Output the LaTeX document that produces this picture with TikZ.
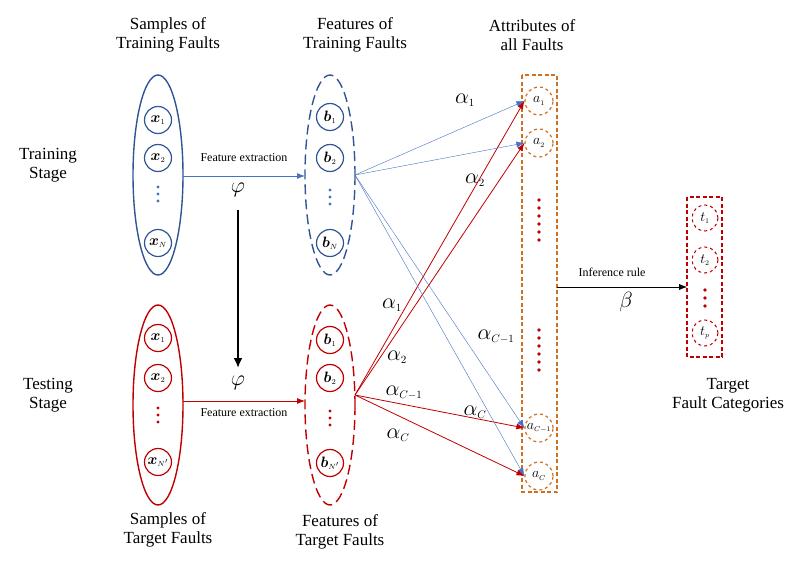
\RequirePackage{fix-cm}
\documentclass[tikz,border=0pt]{standalone}
\usepackage{amsmath,amssymb}
\usepackage{bm}
\usepackage{fontspec}
\setmainfont{Liberation Serif}
\usetikzlibrary{arrows.meta}
\definecolor{dblue}{HTML}{2F5597}
\definecolor{lblue}{HTML}{4472C4}
\definecolor{dred}{HTML}{C00000}
\definecolor{orng}{HTML}{D0701F}
\tikzset{
 cb/.style={circle,draw=dblue,line width=1.2pt,minimum size=27pt,inner sep=0pt,font=\fontsize{15}{15}\selectfont},
 cr/.style={circle,draw=dred,line width=1.2pt,minimum size=27pt,inner sep=0pt,font=\fontsize{15}{15}\selectfont},
 co/.style={circle,draw=orng,line width=1.2pt,dashed,minimum size=28pt,inner sep=0pt,font=\fontsize{14}{14}\selectfont},
 crd/.style={circle,draw=dred,line width=1pt,dashed,minimum size=26pt,inner sep=0pt,font=\fontsize{14}{14}\selectfont},
 lab/.style={align=center,font=\fontsize{17}{19}\selectfont},
 al/.style={font=\fontsize{22}{22}\selectfont},
 sm/.style={font=\fontsize{12}{12}\selectfont},
 ba/.style={lblue,-{Latex[length=8pt,width=6pt]}},
 ra/.style={dred,thick,-{Latex[length=8pt,width=6pt]}},
}
\begin{document}
\begin{tikzpicture}[x=1pt,y=-1pt]
\useasboundingbox (0,0) rectangle (785,568);
% headings
\node[lab] (h1) at (168,35) {Samples of\\Training Faults};
\node[lab] (h2) at (355,35) {Features of\\Training Faults};
\node[lab] (h3) at (532,35) {Attributes of\\all Faults};
\node[lab] (h4) at (48,165) {Training\\Stage};
\node[lab] (h5) at (48,395) {Testing\\Stage};
\node[lab] (h6) at (168,530) {Samples of\\Target Faults};
\node[lab] (h7) at (340,532) {Features of\\Target Faults};
\node[lab] (h8) at (728,395) {Target\\Fault Categories};
% ellipses
\draw[dblue,line width=1.4pt] (158,175) ellipse (25 and 100);
\draw[dblue,line width=1.4pt,dash pattern=on 10pt off 5pt] (330,175) ellipse (25 and 100);
\draw[dred,line width=1.4pt] (158,405) ellipse (25 and 100);
\draw[dred,line width=1.4pt,dash pattern=on 10pt off 5pt] (330,405) ellipse (25 and 100);
\coordinate (e1r) at (183,176); \coordinate (e2l) at (305,176); \coordinate (e2r) at (355,175);
\coordinate (e3r) at (183,401); \coordinate (e4l) at (305,401); \coordinate (e4r) at (355,395);
% circles
\node[cb] (x1) at (158,120) {$\bm{x}_{\scriptscriptstyle 1}$};
\node[cb] (x2) at (158,158) {$\bm{x}_{\scriptscriptstyle 2}$};
\node[cb] (xN) at (158,243) {$\bm{x}_{\scriptscriptstyle N}$};
\node[cb] (b1) at (330,117) {$\bm{b}_{\scriptscriptstyle 1}$};
\node[cb] (b2) at (330,158) {$\bm{b}_{\scriptscriptstyle 2}$};
\node[cb] (bN) at (330,243) {$\bm{b}_{\scriptscriptstyle N}$};
\node[cr] (y1) at (158,338) {$\bm{x}_{\scriptscriptstyle 1}$};
\node[cr] (y2) at (158,378) {$\bm{x}_{\scriptscriptstyle 2}$};
\node[cr] (yN) at (158,462) {$\bm{x}_{\scriptscriptstyle N'}$};
\node[cr] (c1) at (330,340) {$\bm{b}_{\scriptscriptstyle 1}$};
\node[cr] (c2) at (330,378) {$\bm{b}_{\scriptscriptstyle 2}$};
\node[cr] (cN) at (330,463) {$\bm{b}_{\scriptscriptstyle N'}$};
\foreach \y in {187,194,201} {\fill[lblue] (158,\y) circle (1.7); \fill[lblue] (330,\y+3) circle (1.7);}
\foreach \y in {408,415,422} {\fill[dred] (158,\y) circle (1.7); \fill[dred] (330,\y+3) circle (1.7);}
% attributes
\draw[orng,line width=1.3pt,dash pattern=on 4pt off 2.5pt] (522,75) rectangle (557,492);
\node[co] (a1) at (539,101) {$a_{\scriptscriptstyle 1}$};
\node[co] (a2) at (539,143) {$a_{\scriptscriptstyle 2}$};
\node[co] (aC1) at (539,428) {$a_{\scriptscriptstyle C-1}$};
\node[co] (aC) at (539,476) {$a_{\scriptscriptstyle C}$};
\foreach \y in {200,208,...,240} \fill[dred] (539,\y) circle (1.8);
\foreach \y in {330,338,...,370} \fill[dred] (539,\y) circle (1.8);
% targets
\draw[dred,line width=1.2pt,dash pattern=on 4pt off 2.5pt] (687,197) rectangle (722,357);
\node[crd] (t1) at (705,218) {$t_{\scriptscriptstyle 1}$};
\node[crd] (t2) at (705,260) {$t_{\scriptscriptstyle 2}$};
\foreach \y in {290,298,306} \fill[dred] (705,\y) circle (1.8);
\node[crd] (tp) at (705,333) {$t_{\scriptscriptstyle p}$};
% extraction arrows
\draw[ba,thick] (e1r) -- (e2l);
\node[sm] (fe1) at (244,158) {Feature extraction};
\node[al] (p1) at (238,190) {$\varphi$};
\draw[dred,thick,-{Latex[length=8pt,width=6pt]}] (e3r) -- (e4l);
\node[sm] (fe2) at (244,413) {Feature extraction};
\node[al] (p2) at (238,383) {$\varphi$};
\coordinate (v1) at (238,210); \coordinate (v2) at (238,368);
\draw[line width=2.5pt,-{Latex[length=10pt,width=9pt]}] (v1) -- (v2);
% attribute arrows
\foreach \t in {a1,a2,aC1,aC} {
 \draw[ba] (e2r) -- (\t.west);
 \draw[ra] (e4r) -- (\t.west);
}
\node[al] at (465,100) {$\alpha_{\scriptscriptstyle 1}$};
\node[al] at (475,180) {$\alpha_{\scriptscriptstyle 2}$};
\node[al] at (392,305) {$\alpha_{\scriptscriptstyle 1}$};
\node[al] at (397,357) {$\alpha_{\scriptscriptstyle 2}$};
\node[al] at (404,393) {$\alpha_{\scriptscriptstyle C-1}$};
\node[al] at (398,435) {$\alpha_{\scriptscriptstyle C}$};
\node[al] at (496,337) {$\alpha_{\scriptscriptstyle C-1}$};
\node[al] at (475,412) {$\alpha_{\scriptscriptstyle C}$};
% inference
\coordinate (r1) at (557,287); \coordinate (r2) at (687,287);
\draw[-{Latex[length=8pt,width=6pt]}] (r1) -- (r2);
\node[sm] (ir) at (612,272) {Inference rule};
\node[al] (be) at (626,302) {$\beta$};
\end{tikzpicture}
\end{document}
